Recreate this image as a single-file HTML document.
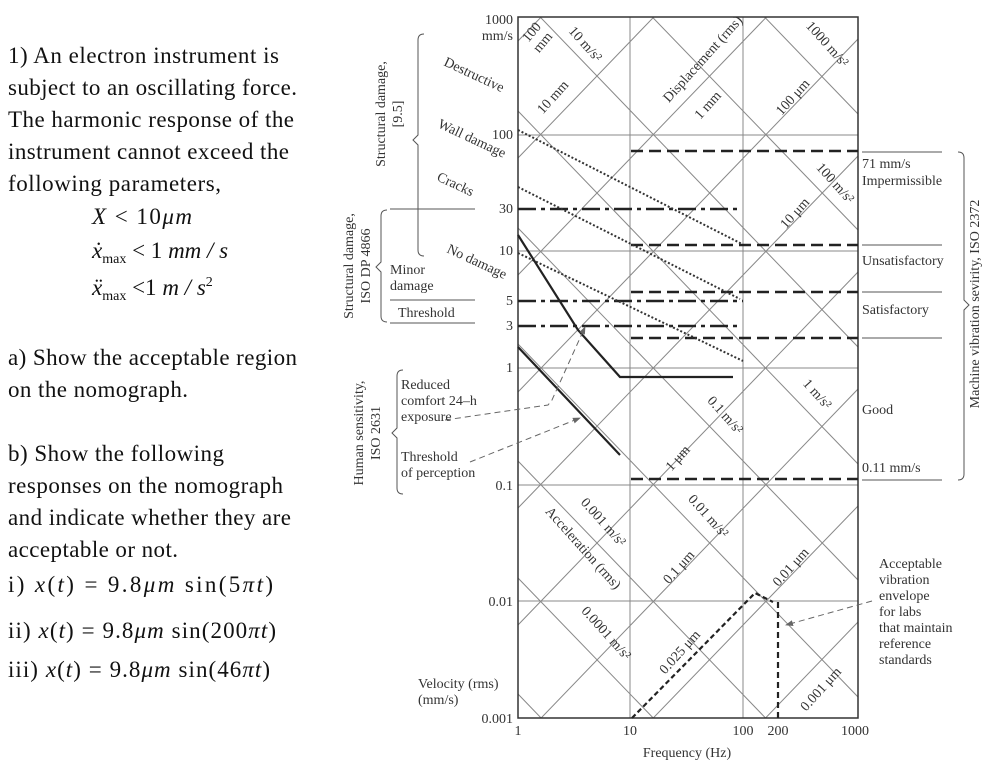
<!DOCTYPE html>
<html><head><meta charset="utf-8"><style>
html,body{margin:0;background:#fff;width:984px;height:772px;overflow:hidden}
svg{display:block}
text{font-family:"Liberation Serif",serif;fill:#333}
.m{font-size:23px;fill:#111}
.s{font-size:14px}
.g{stroke:#888;stroke-width:1;fill:none}
</style></head><body>
<svg width="984" height="772" viewBox="0 0 984 772" xmlns="http://www.w3.org/2000/svg">
<defs><clipPath id="c"><rect x="518" y="17" width="340" height="701"/></clipPath>
<marker id="ar" markerWidth="8" markerHeight="8" refX="7" refY="4" orient="auto"><path d="M0,1 L8,4 L0,7 z" fill="#666"/></marker></defs>
<!-- left problem text -->
<text class="m" x="8" y="63" textLength="271" lengthAdjust="spacing">1) An electron instrument is</text>
<text class="m" x="8" y="95" textLength="289" lengthAdjust="spacing">subject to an oscillating force.</text>
<text class="m" x="8" y="127" textLength="286" lengthAdjust="spacing">The harmonic response of the</text>
<text class="m" x="8" y="159" textLength="281" lengthAdjust="spacing">instrument cannot exceed the</text>
<text class="m" x="8" y="191" textLength="213" lengthAdjust="spacing">following parameters,</text>
<text class="m" x="92" y="224" textLength="100" lengthAdjust="spacing"><tspan font-style="italic">X</tspan> &lt; 10<tspan font-style="italic">μm</tspan></text>
<text class="m" x="92" y="258"><tspan font-style="italic">ẋ</tspan><tspan font-size="14" dy="5">max</tspan><tspan dy="-5"> &lt; 1</tspan><tspan font-style="italic"> mm / s</tspan></text>
<text class="m" x="92" y="295"><tspan font-style="italic">ẍ</tspan><tspan font-size="14" dy="5">max</tspan><tspan dy="-5"> &lt;1</tspan><tspan font-style="italic"> m / s</tspan><tspan font-size="14" dy="-9">2</tspan></text>
<text class="m" x="8" y="365" textLength="289" lengthAdjust="spacing">a) Show the acceptable region</text>
<text class="m" x="8" y="397" textLength="180" lengthAdjust="spacing">on the nomograph.</text>
<text class="m" x="8" y="461" textLength="216" lengthAdjust="spacing">b) Show the following</text>
<text class="m" x="8" y="493" textLength="275" lengthAdjust="spacing">responses on the nomograph</text>
<text class="m" x="8" y="525" textLength="283" lengthAdjust="spacing">and indicate whether they are</text>
<text class="m" x="8" y="557" textLength="170" lengthAdjust="spacing">acceptable or not.</text>
<text class="m" x="8" y="592" textLength="265" lengthAdjust="spacing">i) <tspan font-style="italic">x</tspan>(<tspan font-style="italic">t</tspan>) = 9.8<tspan font-style="italic">μm</tspan> sin(5<tspan font-style="italic">πt</tspan>)</text>
<text class="m" x="8" y="638" textLength="268" lengthAdjust="spacing">ii) <tspan font-style="italic">x</tspan>(<tspan font-style="italic">t</tspan>) = 9.8<tspan font-style="italic">μm</tspan> sin(200<tspan font-style="italic">πt</tspan>)</text>
<text class="m" x="8" y="677" textLength="262" lengthAdjust="spacing">iii) <tspan font-style="italic">x</tspan>(<tspan font-style="italic">t</tspan>) = 9.8<tspan font-style="italic">μm</tspan> sin(46<tspan font-style="italic">πt</tspan>)</text>

<!-- grid -->
<g clip-path="url(#c)">
<g class="g">
<line x1="518" y1="-75" x2="858" y2="-428"/>
<line x1="518" y1="41" x2="858" y2="-311"/>
<line x1="518" y1="158" x2="858" y2="-195"/>
<line x1="518" y1="275" x2="858" y2="-78"/>
<line x1="518" y1="392" x2="858" y2="39"/>
<line x1="518" y1="508" x2="858" y2="156"/>
<line x1="518" y1="625" x2="858" y2="272"/>
<line x1="518" y1="742" x2="858" y2="389"/>
<line x1="518" y1="858" x2="858" y2="506"/>
<line x1="518" y1="975" x2="858" y2="622"/>
<line x1="518" y1="1092" x2="858" y2="739"/>
<line x1="518" y1="-239" x2="858" y2="114"/>
<line x1="518" y1="-122" x2="858" y2="230"/>
<line x1="518" y1="-6" x2="858" y2="347"/>
<line x1="518" y1="111" x2="858" y2="464"/>
<line x1="518" y1="228" x2="858" y2="580"/>
<line x1="518" y1="344" x2="858" y2="697"/>
<line x1="518" y1="461" x2="858" y2="814"/>
<line x1="518" y1="578" x2="858" y2="930"/>
<line x1="518" y1="694" x2="858" y2="1047"/>
<line x1="518" y1="135" x2="858" y2="135"/>
<line x1="518" y1="251" x2="858" y2="251"/>
<line x1="518" y1="368" x2="858" y2="368"/>
<line x1="518" y1="485" x2="858" y2="485"/>
<line x1="518" y1="601" x2="858" y2="601"/>
<line x1="630" y1="17" x2="630" y2="718"/>
<line x1="743" y1="17" x2="743" y2="718"/>
</g></g>
<rect x="518" y="17" width="340" height="701" fill="none" stroke="#333" stroke-width="1.5"/>

<g stroke="#222" stroke-width="2.5" stroke-dasharray="12,6" fill="none">
<line x1="631" y1="151" x2="858" y2="151"/>
<line x1="631" y1="245" x2="858" y2="245"/>
<line x1="631" y1="292" x2="858" y2="292"/>
<line x1="631" y1="338" x2="858" y2="338"/>
<line x1="631" y1="479" x2="858" y2="479"/>
</g>
<g stroke="#222" stroke-width="2.5" stroke-dasharray="18,5,4,5" fill="none">
<line x1="518" y1="209" x2="740" y2="209"/>
<line x1="518" y1="301" x2="743" y2="301"/>
<line x1="518" y1="326" x2="740" y2="326"/>
</g>
<g stroke="#333" stroke-width="2" stroke-dasharray="2,2" fill="none">
<line x1="518" y1="130" x2="742" y2="244"/>
<line x1="518" y1="187" x2="740" y2="299"/>
<line x1="518" y1="253" x2="743" y2="361"/>
</g>
<polyline points="518,235 578,330 620,377 733,377" fill="none" stroke="#222" stroke-width="2.2"/>
<line x1="518" y1="347" x2="620" y2="455" stroke="#222" stroke-width="2.2"/>
<polyline points="632,718 755,593 773,602" fill="none" stroke="#222" stroke-width="2.2" stroke-dasharray="5,3"/>
<line x1="778" y1="602" x2="778" y2="718" stroke="#222" stroke-width="2.2" stroke-dasharray="6,4"/>

<g stroke="#666" stroke-width="1" stroke-dasharray="6,4" fill="none">
<polyline points="445,420 548,405 552,400 585,327" marker-end="url(#ar)"/>
<line x1="470" y1="462" x2="580" y2="418" marker-end="url(#ar)"/>
<line x1="872" y1="601" x2="786" y2="625" marker-end="url(#ar)"/>
</g>

<g class="s">
<text transform="translate(535,35) rotate(-50)" text-anchor="middle">100</text>
<text transform="translate(546,45) rotate(-50)" text-anchor="middle">mm</text>
<text transform="translate(582,47) rotate(48)" text-anchor="middle">10 m/s²</text>
<text transform="translate(556,100) rotate(-48)" text-anchor="middle">10 mm</text>
<text transform="translate(706,62) rotate(-48)" text-anchor="middle">Displacement (rms)</text>
<text transform="translate(711,108) rotate(-48)" text-anchor="middle">1 mm</text>
<text transform="translate(824,47) rotate(48)" text-anchor="middle">1000 m/s²</text>
<text transform="translate(796,100) rotate(-48)" text-anchor="middle">100 μm</text>
<text transform="translate(832,186) rotate(48)" text-anchor="middle">100 m/s²</text>
<text transform="translate(798,216) rotate(-48)" text-anchor="middle">10 μm</text>
<text transform="translate(814,397) rotate(48)" text-anchor="middle">1 m/s²</text>
<text transform="translate(722,418) rotate(48)" text-anchor="middle">0.1 m/s²</text>
<text transform="translate(681,461) rotate(-48)" text-anchor="middle">1 μm</text>
<text transform="translate(705,519) rotate(48)" text-anchor="middle">0.01 m/s²</text>
<text transform="translate(600,525) rotate(48)" text-anchor="middle">0.001 m/s²</text>
<text transform="translate(580,551) rotate(48)" text-anchor="middle">Acceleration (rms)</text>
<text transform="translate(682,570) rotate(-48)" text-anchor="middle">0.1 μm</text>
<text transform="translate(794,570) rotate(-48)" text-anchor="middle">0.01 μm</text>
<text transform="translate(603,636) rotate(48)" text-anchor="middle">0.0001 m/s²</text>
<text transform="translate(683,655) rotate(-48)" text-anchor="middle">0.025 μm</text>
<text transform="translate(824,692) rotate(-48)" text-anchor="middle">0.001 μm</text>
</g>

<g class="s" text-anchor="end">
<text x="513" y="24">1000</text>
<text x="513" y="40">mm/s</text>
<text x="513" y="139">100</text>
<text x="513" y="213">30</text>
<text x="513" y="255">10</text>
<text x="513" y="305">5</text>
<text x="513" y="330">3</text>
<text x="513" y="372">1</text>
<text x="513" y="490">0.1</text>
<text x="513" y="606">0.01</text>
<text x="513" y="723">0.001</text>
</g>
<g class="s" text-anchor="middle">
<text x="518" y="735">1</text>
<text x="630" y="735">10</text>
<text x="743" y="735">100</text>
<text x="778" y="735">200</text>
<text x="855" y="735">1000</text>
<text x="687" y="757">Frequency (Hz)</text>
</g>
<text class="s" x="418" y="688">Velocity (rms)</text>
<text class="s" x="418" y="704">(mm/s)</text>

<g class="s" font-size="15">
<text transform="translate(443,65) rotate(25)">Destructive</text>
<text transform="translate(437,127) rotate(25)">Wall damage</text>
<text transform="translate(436,180) rotate(25)">Cracks</text>
<text transform="translate(446,252) rotate(25)">No damage</text>
</g>

<g stroke="#555" stroke-width="1" fill="none">
<path d="M424,34 Q418,34 418,40 L418,135 L413,140 L418,145 L418,250 Q418,256 424,256"/>
<path d="M387,210 Q381,210 381,216 L381,262 L376,267 L381,272 L381,316 Q381,322 387,322"/>
<path d="M403,370 Q397,370 397,376 L397,428 L392,433 L397,438 L397,488 Q397,494 403,494"/>
<line x1="390" y1="209" x2="475" y2="209"/>
<line x1="390" y1="300" x2="475" y2="300"/>
<line x1="390" y1="323" x2="475" y2="323"/>
<path d="M958,152 Q964,152 964,158 L964,300 L969,305 L964,310 L964,474 Q964,480 958,480"/>
<line x1="862" y1="152" x2="942" y2="152"/>
<line x1="862" y1="245" x2="942" y2="245"/>
<line x1="862" y1="292" x2="942" y2="292"/>
<line x1="862" y1="338" x2="942" y2="338"/>
<line x1="862" y1="480" x2="942" y2="480"/>
</g>
<g class="s">
<text transform="translate(385,114) rotate(-90)" text-anchor="middle">Structural damage,</text>
<text transform="translate(402,114) rotate(-90)" text-anchor="middle">[9.5]</text>
<text transform="translate(353,266) rotate(-90)" text-anchor="middle">Structural damage,</text>
<text transform="translate(370,266) rotate(-90)" text-anchor="middle">ISO DP 4866</text>
<text transform="translate(363,433) rotate(-90)" text-anchor="middle">Human sensitivity,</text>
<text transform="translate(380,433) rotate(-90)" text-anchor="middle">ISO 2631</text>
<text x="390" y="274">Minor</text>
<text x="390" y="290">damage</text>
<text x="398" y="317">Threshold</text>
<text x="401" y="389">Reduced</text>
<text x="401" y="405">comfort 24–h</text>
<text x="401" y="421">exposure</text>
<text x="401" y="461">Threshold</text>
<text x="401" y="477">of perception</text>
<text x="862" y="168">71 mm/s</text>
<text x="862" y="185">Impermissible</text>
<text x="862" y="265">Unsatisfactory</text>
<text x="862" y="314">Satisfactory</text>
<text x="862" y="414">Good</text>
<text x="862" y="472">0.11 mm/s</text>
<text transform="translate(979,304) rotate(-90)" text-anchor="middle">Machine vibration sevirity, ISO 2372</text>
<text x="879" y="568">Acceptable</text>
<text x="879" y="584">vibration</text>
<text x="879" y="600">envelope</text>
<text x="879" y="616">for labs</text>
<text x="879" y="632">that maintain</text>
<text x="879" y="648">reference</text>
<text x="879" y="664">standards</text>
</g>
</svg>
</body></html>
